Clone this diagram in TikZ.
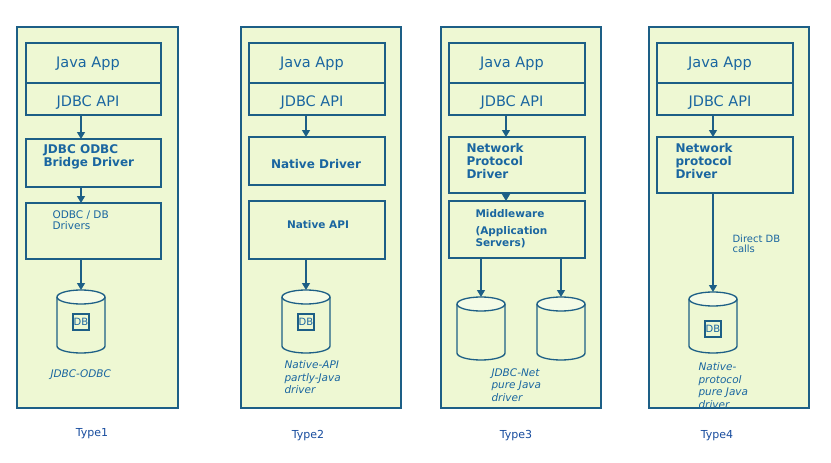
\documentclass[tikz,border=0pt]{standalone}
\usepackage{fontspec}
\setmainfont{DejaVu Sans}
\usetikzlibrary{arrows.meta}
\definecolor{fillg}{HTML}{EEF8D3}
\definecolor{strk}{HTML}{1D5F86}
\definecolor{txt}{HTML}{1A66A0}
\definecolor{topf}{HTML}{F4FBE6}
\begin{document}
\begin{tikzpicture}[x=1pt,y=-1pt,
  outer/.style={draw=strk,fill=fillg,line width=1.3pt},
  inner/.style={draw=strk,line width=1.3pt},
  big/.style={text=txt,font=\fontsize{14.5}{17}\selectfont},
  bold/.style={text=txt,font=\fontsize{12}{14}\selectfont\bfseries,align=left},
  sm/.style={text=txt,font=\fontsize{10.5}{11.5}\selectfont,align=left},
  it/.style={text=txt,font=\fontsize{10.5}{12.5}\selectfont\itshape,align=left,anchor=north west},
  arr/.style={draw=strk,line width=1.3pt,-{Triangle[length=7pt,width=8pt]}},
  dbl/.style={draw=strk,line width=1.1pt,minimum size=16pt,inner sep=0pt,text=txt,font=\fontsize{10}{11}\selectfont},
  lab/.style={text=strk!80!blue,font=\fontsize{11}{13}\selectfont}]
\useasboundingbox (0,0) rectangle (831,463);
\fill[white] (0,0) rectangle (831,463);
% cylinder: name, cx, top y, bottom y
\newcommand{\mycyl}[4]{%
  \fill[fillg] (#2-24,#3) -- (#2-24,#4) arc[start angle=180,end angle=0,x radius=24,y radius=7] -- (#2+24,#3) -- cycle;
  \draw[strk,line width=1.3pt] (#2-24,#3) -- (#2-24,#4) arc[start angle=180,end angle=0,x radius=24,y radius=7] -- (#2+24,#3);
  \draw[strk,line width=1.3pt,fill=topf] (#2,#3) ellipse[x radius=24,y radius=7];
  \coordinate (#1) at (#2,#3-7);}
% ---- Type1
\draw[outer] (17,27) rectangle (178,408);
\draw[inner] (26,43) rectangle (161,83);
\node[big] (j1) at (88,64) {Java App};
\draw[inner] (26,83) rectangle (161,115);
\node[big] (a1) at (88,103) {JDBC API};
\draw[inner] (26,139) rectangle (161,187);
\node[bold,anchor=west] (b1) at (40,157) {JDBC ODBC\\[-1pt]Bridge Driver};
\draw[inner] (26,203) rectangle (161,259);
\node[sm,anchor=north west] (o1) at (49,207) {ODBC / DB\\Drivers};
\coordinate (s1a) at (81,115); \coordinate (e1a) at (81,139);
\coordinate (s1b) at (81,187); \coordinate (e1b) at (81,203);
\coordinate (s1c) at (81,259);
\draw[arr] (s1a) -- (e1a); \draw[arr] (s1b) -- (e1b);
\mycyl{c1}{81}{297}{346}
\draw[arr] (s1c) -- (c1);
\node[dbl] (d1) at (81,322) {DB};
\node[it] (l1) at (47,366) {JDBC-ODBC};
\node[lab] (t1) at (92,434) {Type1};
% ---- Type2
\draw[outer] (241,27) rectangle (401,408);
\draw[inner] (249,43) rectangle (385,83);
\node[big] (j2) at (312,64) {Java App};
\draw[inner] (249,83) rectangle (385,115);
\node[big] (a2) at (312,103) {JDBC API};
\draw[inner] (249,137) rectangle (385,185);
\node[bold] (b2) at (316,164) {Native Driver};
\draw[inner] (249,201) rectangle (385,259);
\node[bold,font=\fontsize{10.5}{12}\selectfont\bfseries] (o2) at (318,225) {Native API};
\coordinate (s2a) at (306,115); \coordinate (e2a) at (306,137);
\coordinate (s2c) at (306,259);
\draw[arr] (s2a) -- (e2a);
\mycyl{c2}{306}{297}{346}
\draw[arr] (s2c) -- (c2);
\node[dbl] (d2) at (306,322) {DB};
\node[it] (l2) at (281,357) {Native-API\\partly-Java\\driver};
\node[lab] (t2) at (308,436) {Type2};
% ---- Type3
\draw[outer] (441,27) rectangle (601,408);
\draw[inner] (449,43) rectangle (585,83);
\node[big] (j3) at (512,64) {Java App};
\draw[inner] (449,83) rectangle (585,115);
\node[big] (a3) at (512,103) {JDBC API};
\draw[inner] (449,137) rectangle (585,193);
\node[bold,anchor=north west] (b3) at (463,140) {Network\\[-1pt]Protocol\\[-1pt]Driver};
\draw[inner] (449,201) rectangle (585,258);
\node[bold,font=\fontsize{10.5}{12.5}\selectfont\bfseries,anchor=north west] (o3) at (472,206) {Middleware\\[4pt](Application\\Servers)};
\coordinate (s3a) at (506,115); \coordinate (e3a) at (506,137);
\coordinate (s3b) at (506,193); \coordinate (e3b) at (506,201);
\coordinate (s3c) at (481,258); \coordinate (s3d) at (561,258);
\draw[arr] (s3a) -- (e3a);
\draw[arr] (s3b) -- (e3b);
\mycyl{c3}{481}{304}{353}
\mycyl{c3b}{561}{304}{353}
\draw[arr] (s3c) -- (c3);
\draw[arr] (s3d) -- (c3b);
\node[it] (l3) at (488,365) {JDBC-Net\\pure Java\\driver};
\node[lab] (t3) at (516,436) {Type3};
% ---- Type4
\draw[outer] (649,27) rectangle (809,408);
\draw[inner] (657,43) rectangle (793,83);
\node[big] (j4) at (720,64) {Java App};
\draw[inner] (657,83) rectangle (793,115);
\node[big] (a4) at (720,103) {JDBC API};
\draw[inner] (657,137) rectangle (793,193);
\node[bold,anchor=north west] (b4) at (672,140) {Network\\[-1pt]protocol\\[-1pt]Driver};
\coordinate (s4a) at (713,115); \coordinate (e4a) at (713,137);
\coordinate (s4c) at (713,193);
\draw[arr] (s4a) -- (e4a);
\mycyl{c4}{713}{299}{346}
\draw[arr] (s4c) -- (c4);
\node[dbl] (d4) at (713,329) {DB};
\node[sm,anchor=north west,font=\fontsize{10}{10.5}\selectfont] (n4) at (729,231) {Direct DB\\calls};
\node[it] (l4) at (695,359) {Native-\\protocol\\pure Java\\driver};
\node[lab] (t4) at (717,436) {Type4};
\end{tikzpicture}
\end{document}
